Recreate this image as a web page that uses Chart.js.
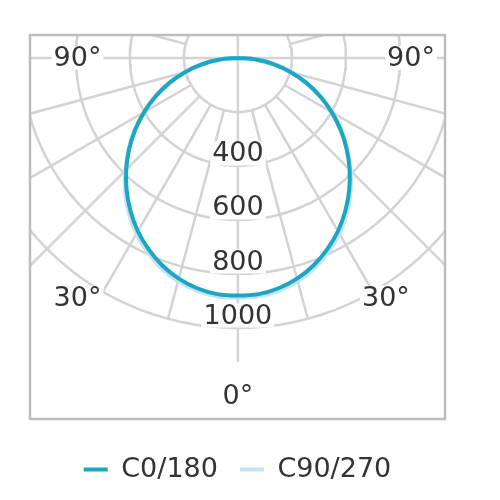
<!DOCTYPE html>
<html>
<head>
<meta charset="utf-8">
<script src="https://cdn.jsdelivr.net/npm/chart.js@4.4.1/dist/chart.umd.min.js"></script>
<style>
  html, body { margin: 0; padding: 0; background: #fff; }
  #wrap { width: 500px; height: 500px; }
</style>
</head>
<body>
<div id="wrap"><canvas id="polar" width="500" height="500"></canvas></div>
<script>
// gamma angle (deg, 0 = straight down) and intensity in cd
const angles = [0, 5, 10, 15, 20, 25, 30, 35, 40, 45, 50, 55, 60, 65, 70, 75, 80, 85, 90];
const c0_180 = [880, 878, 866, 846, 818, 782, 741, 693, 641, 585, 526, 465, 401, 336, 270, 203, 136, 68, 0];
const c90_270 = [887, 885, 874, 855, 828, 792, 751, 702, 648, 589, 528, 465, 401, 336, 270, 203, 136, 68, 0];
const seriesNames = ['C0/180', 'C90/270'];

const ringValues = [200, 400, 600, 800, 1000];
const ringLabels = [400, 600, 800, 1000];
const spokeAngles = [-165, -150, -135, -120, -105, -90, -75, -60, -45, -30, -15, 0, 15, 30, 45, 60, 75, 90, 105, 120, 135, 150, 165, 180];
const angleLabels = ['90°', '30°', '0°', '30°', '90°'];

const rad = d => d * Math.PI / 180;
// polar (angle from nadir, value) -> chart x/y, nadir pointing down
function polarPoint(a, v) {
    return { x: v * Math.sin(rad(a)), y: -v * Math.cos(rad(a)) };
}

function curve(values) {
    const pts = [];
    for (let i = angles.length - 1; i > 0; i--) pts.push(polarPoint(-angles[i], values[i]));
    for (let i = 0; i < angles.length; i++) pts.push(polarPoint(angles[i], values[i]));
    return pts;
}

function rings() {
    const pts = [];
    ringValues.forEach(v => {
        for (let a = -180; a <= 180; a += 3) pts.push(polarPoint(a, v));
        pts.push({ x: null, y: null });
    });
    return pts;
}

function spokes() {
    const pts = [];
    spokeAngles.forEach(a => {
        const abs = Math.abs(a);
        const from = (abs === 0 || abs === 90 || abs === 180) ? 0 : ringValues[0];
        let to = 2000;
        if (abs === 0) to = 1125;
        else if (abs === 15 || abs === 30) to = ringValues[ringValues.length - 1];
        pts.push(polarPoint(a, from), polarPoint(a, to), { x: null, y: null });
    });
    return pts;
}

const gridColor = '#d3d3d3';
const textColor = '#333333';
const font = '"DejaVu Sans", "Noto Sans", sans-serif';

const labelPlugin = {
    id: 'polarLabels',
    afterDatasetsDraw(chart) {
        const { ctx, scales: { x, y } } = chart;
        ctx.save();
        ctx.font = 'normal 27px ' + font;
        ctx.textAlign = 'center';
        ctx.textBaseline = 'middle';
        const put = (text, px, py) => {
            const w = ctx.measureText(text).width;
            ctx.fillStyle = '#fff';
            ctx.fillRect(px - w / 2 - 2, py - 12, w + 4, 24);
            ctx.fillStyle = textColor;
            ctx.fillText(text, px, py + 1);
        };
        ringLabels.forEach(v => {
            put(String(v), x.getPixelForValue(0), y.getPixelForValue(-v) - 12.5);
        });
        // where each angle label sits (angle, radius in cd)
        const spots = [[-90, 594], [-33.8, 1068], [0, 1250], [31.7, 1043], [90, 641]];
        angleLabels.forEach((t, i) => {
            const p = polarPoint(spots[i][0], spots[i][1]);
            put(t, x.getPixelForValue(p.x), y.getPixelForValue(p.y));
        });
        ctx.restore();
    },
    afterDraw(chart) {
        const { ctx, chartArea: c } = chart;
        ctx.save();
        ctx.strokeStyle = '#bdbdbd';
        ctx.lineWidth = 2.5;
        ctx.strokeRect(c.left, c.top, c.right - c.left, c.bottom - c.top);
        ctx.restore();
    }
};

const ctx = document.getElementById('polar').getContext('2d');
new Chart(ctx, {
    type: 'scatter',
    data: {
        datasets: [
            {
                label: seriesNames[0],
                data: curve(c0_180),
                showLine: true,
                borderColor: '#1ba7c1',
                backgroundColor: '#1ba7c1',
                borderWidth: 4,
                pointRadius: 0,
                tension: 0.3
            },
            {
                label: seriesNames[1],
                data: curve(c90_270),
                showLine: true,
                borderColor: '#c3e3f3',
                backgroundColor: '#c3e3f3',
                borderWidth: 4.5,
                pointRadius: 0,
                tension: 0.3
            },
            {
                label: 'rings',
                data: rings(),
                showLine: true,
                borderColor: gridColor,
                borderWidth: 2.5,
                pointRadius: 0,
                spanGaps: false
            },
            {
                label: 'spokes',
                data: spokes(),
                showLine: true,
                borderColor: gridColor,
                borderWidth: 2.5,
                pointRadius: 0,
                spanGaps: false
            }
        ]
    },
    options: {
        responsive: false,
        animation: false,
        events: [],
        layout: { padding: { left: 30, right: 55, top: 35, bottom: 7 } },
        scales: {
            x: { type: 'linear', display: false, min: -770, max: 767 },
            y: { type: 'linear', display: false, min: -1337, max: 85 }
        },
        plugins: {
            tooltip: { enabled: false },
            legend: {
                position: 'bottom',
                title: { display: true, text: '', padding: 0, font: { size: 10, lineHeight: 1.5 } },
                labels: {
                    color: textColor,
                    font: { family: font, size: 27, weight: 'normal' },
                    boxWidth: 24,
                    boxHeight: 4,
                    padding: 22,
                    generateLabels(chart) {
                        const items = Chart.defaults.plugins.legend.labels.generateLabels(chart);
                        return items
                            .filter(i => i.datasetIndex < 2)
                            .map(i => Object.assign(i, { lineWidth: 0, fillStyle: i.strokeStyle }));
                    }
                }
            }
        }
    },
    plugins: [labelPlugin]
});
</script>
</body>
</html>
